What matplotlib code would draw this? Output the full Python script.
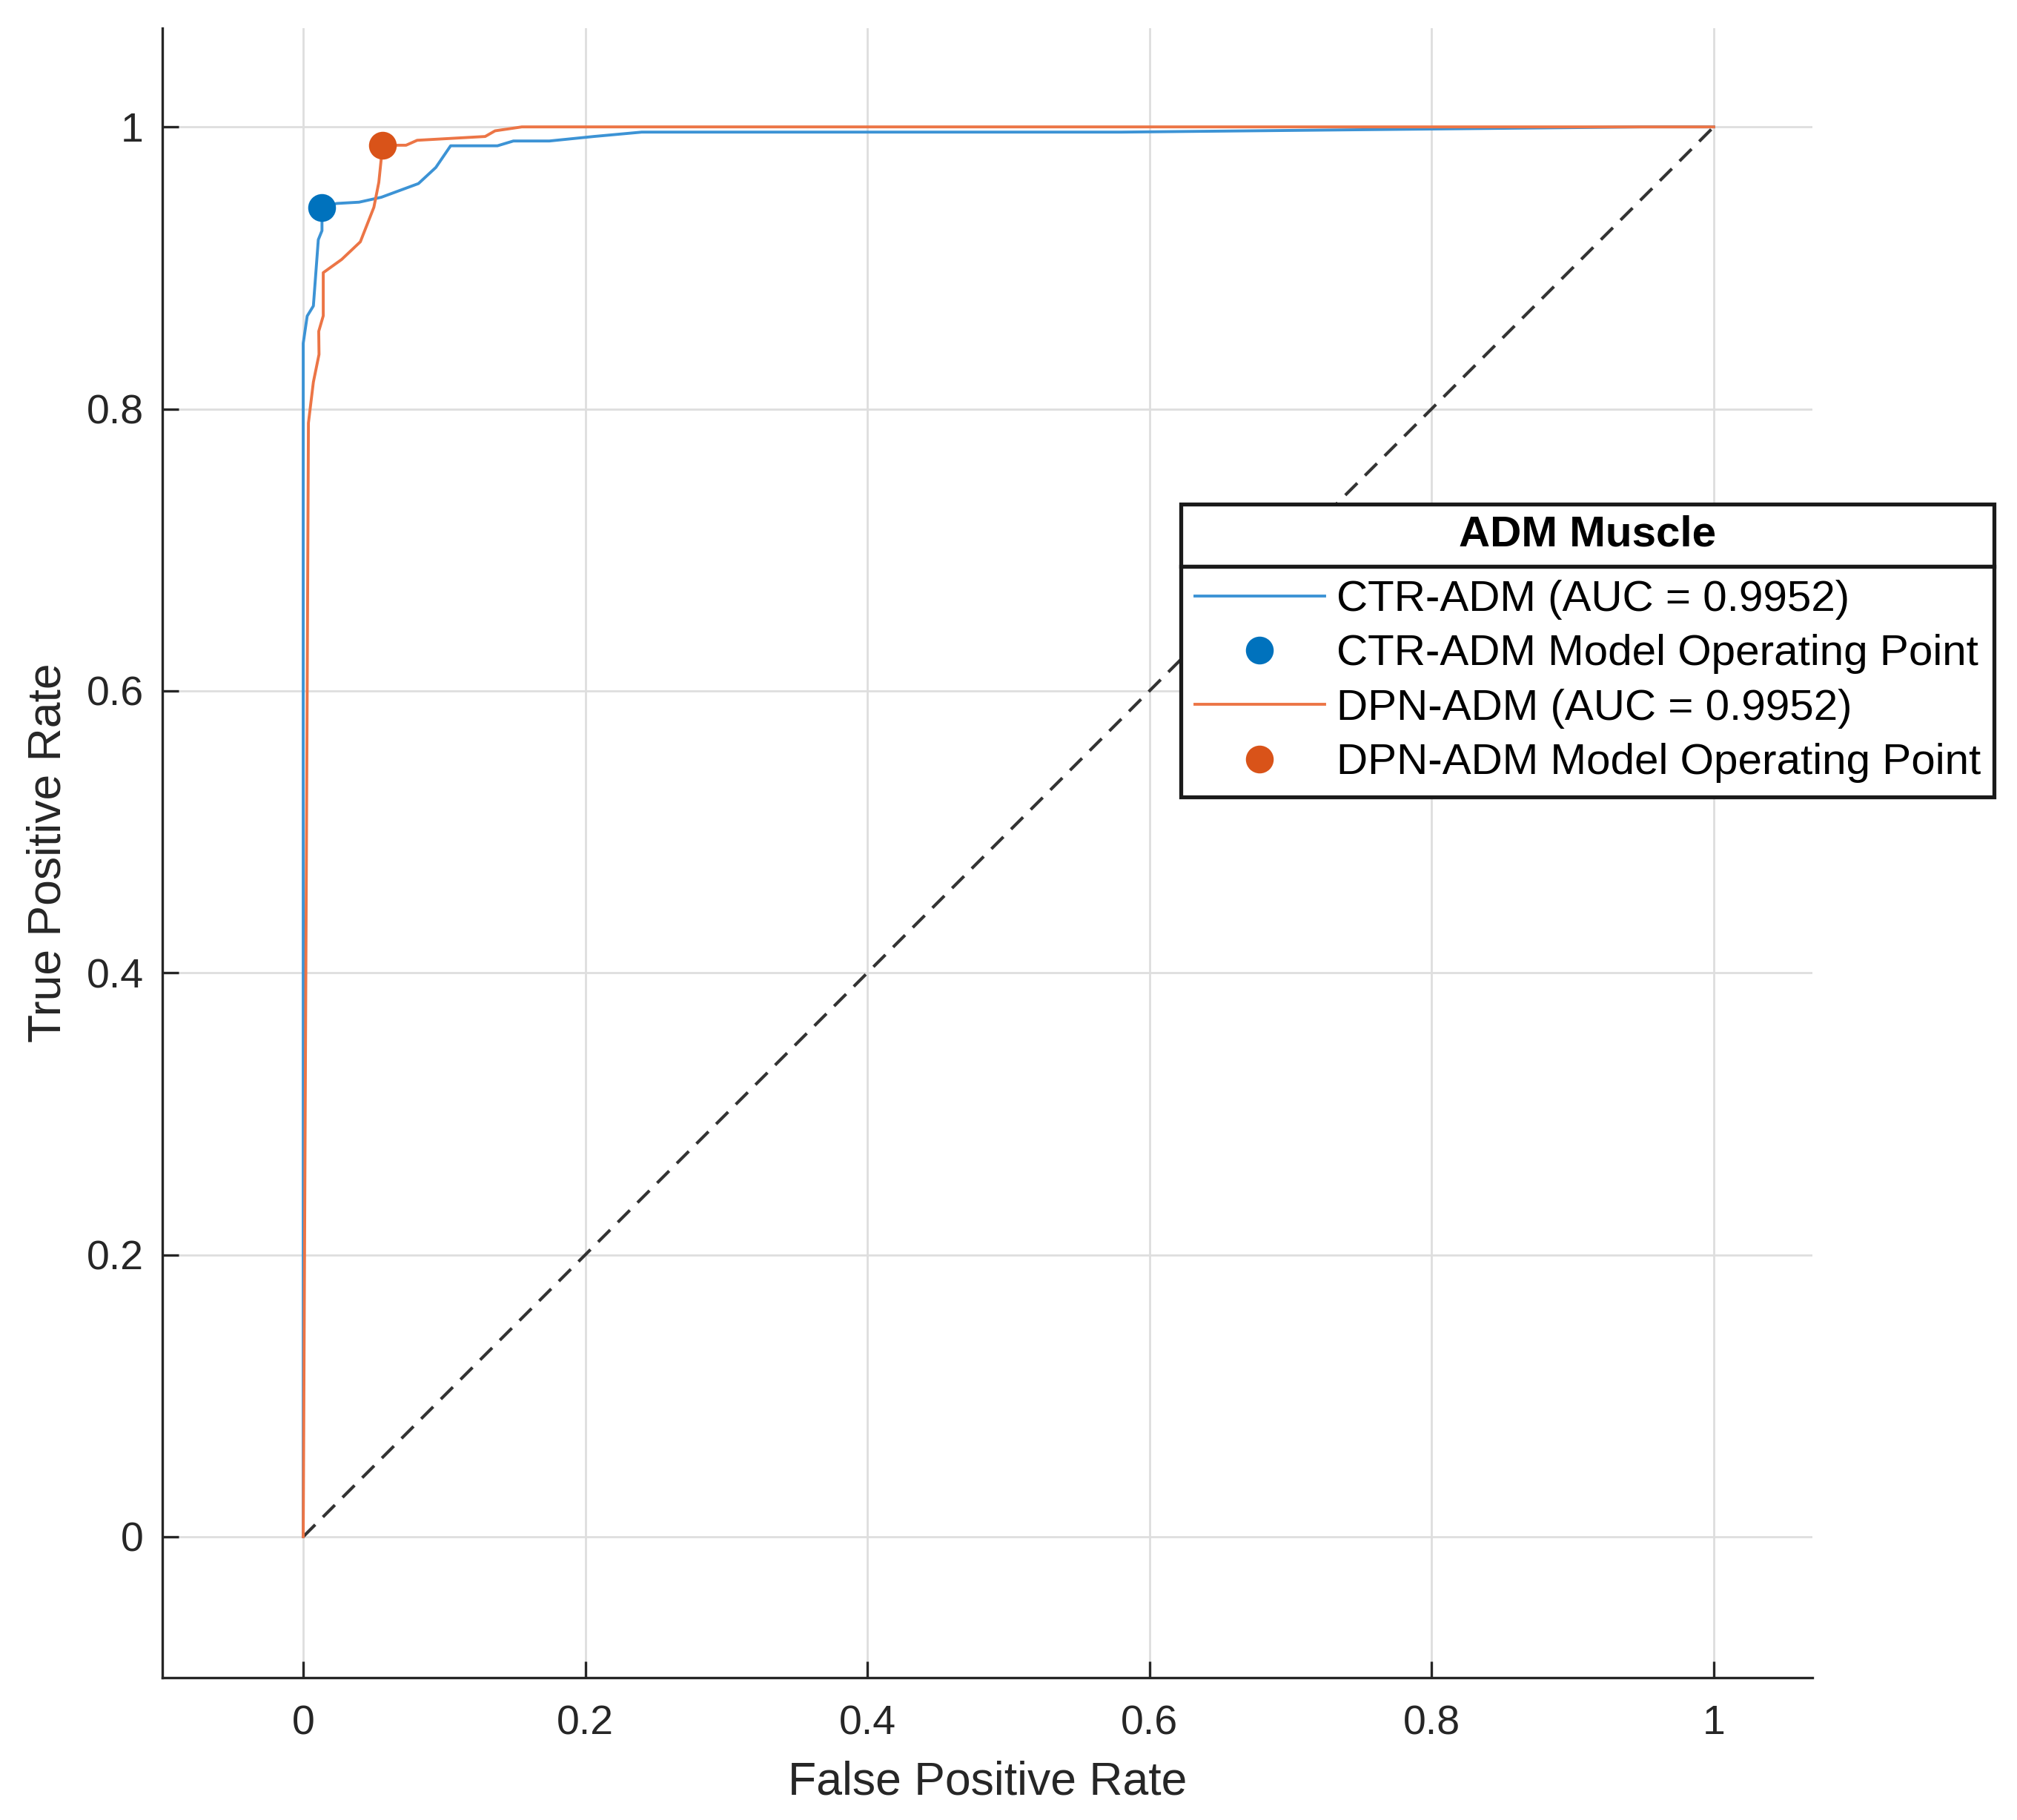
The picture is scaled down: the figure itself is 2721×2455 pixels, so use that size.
import matplotlib
matplotlib.use('Agg')
import matplotlib.pyplot as plt
from matplotlib.patches import Rectangle

plt.rcParams['font.family'] = ['Liberation Sans', 'DejaVu Sans']

# ROC curve for the CTR-ADM model
ctr_fpr = [0, 0, 0.0028, 0.0072, 0.0107, 0.0133, 0.0133, 0.0238, 0.0396, 0.0554,
           0.0817, 0.094, 0.1045, 0.1377, 0.149, 0.1745, 0.206, 0.24, 0.58, 0.80, 0.95, 1]
ctr_tpr = [0, 0.8465, 0.8658, 0.873, 0.920, 0.9264, 0.943, 0.9457, 0.9466, 0.9501,
           0.9598, 0.9712, 0.9866, 0.9866, 0.990, 0.990, 0.9932, 0.9963, 0.9963, 0.9985, 1.0, 1.0]

# ROC curve for the DPN-ADM model
dpn_fpr = [0, 0.0037, 0.0072, 0.0112, 0.0110, 0.0142, 0.0142, 0.0273, 0.0405, 0.0501,
           0.0536, 0.0563, 0.0729, 0.0808, 0.129, 0.136, 0.155, 1]
dpn_tpr = [0, 0.79, 0.819, 0.8386, 0.855, 0.866, 0.8966, 0.906, 0.9185, 0.943,
           0.9607, 0.987, 0.987, 0.9905, 0.9932, 0.9972, 1.0, 1.0]

# operating points
ctr_op = (0.0133, 0.943)
dpn_op = (0.0563, 0.987)

ticks = [0, 0.2, 0.4, 0.6, 0.8, 1]
tick_labels = ['0', '0.2', '0.4', '0.6', '0.8', '1']

dark = '#262626'
blue_line, blue_pt = '#3C93D5', '#0072BD'
orange_line, orange_pt = '#EC7546', '#D95319'

fig = plt.figure(figsize=(13.605, 12.275), dpi=200)
ax = fig.add_axes([0.0804, 0.0782, 0.8182, 0.9063])

# chance line
ax.plot([0, 1], [0, 1], color='#333333', lw=1.5, dashes=(5.5, 3.5), zorder=2)

l1, = ax.plot(ctr_fpr, ctr_tpr, color=blue_line, lw=1.4, zorder=3,
              label='CTR-ADM (AUC = 0.9952)')
l2, = ax.plot(dpn_fpr, dpn_tpr, color=orange_line, lw=1.4, zorder=3,
              label='DPN-ADM (AUC = 0.9952)')
p1, = ax.plot([ctr_op[0]], [ctr_op[1]], 'o', color=blue_pt, ms=12.5, zorder=4,
              label='CTR-ADM Model Operating Point')
p2, = ax.plot([dpn_op[0]], [dpn_op[1]], 'o', color=orange_pt, ms=12.5, zorder=4,
              label='DPN-ADM Model Operating Point')

ax.set_xlim(-0.1, 1.07)
ax.set_ylim(-0.1, 1.07)
ax.set_xticks(ticks)
ax.set_xticklabels(tick_labels)
ax.set_yticks(ticks)
ax.set_yticklabels(tick_labels)
ax.tick_params(direction='in', length=8, width=1.2, color=dark, labelcolor=dark,
               labelsize=20)
ax.tick_params(axis='x', pad=13)
ax.tick_params(axis='y', pad=9)
ax.grid(True, color='#dedede', lw=1.0)
ax.set_axisbelow(True)
for s in ['top', 'right']:
    ax.spines[s].set_visible(False)
for s in ['left', 'bottom']:
    ax.spines[s].set_color(dark)
    ax.spines[s].set_linewidth(1.2)

ax.set_xlabel('False Positive Rate', fontsize=22.5, color=dark, labelpad=8.5)
ax.set_ylabel('True Positive Rate', fontsize=22.5, color=dark, labelpad=8)

# legend box (entries), sticking out past the axes like the original
leg_x0, leg_x1 = 0.5855, 0.9885
leg_top, head_top = 0.6890, 0.7230
leg = fig.legend(handles=[l1, p1, l2, p2], loc='upper left',
                 bbox_to_anchor=(leg_x0, leg_top - 0.2, leg_x1 - leg_x0, 0.2),
                 mode='expand', borderaxespad=0, fontsize=21, labelspacing=0.33,
                 handlelength=3.0, handletextpad=0.28, borderpad=0.32,
                 fancybox=False, framealpha=1, edgecolor='#1a1a1a')
leg.get_frame().set_linewidth(1.9)

# header with the title
fig.patches.append(Rectangle((leg_x0, leg_top), leg_x1 - leg_x0, head_top - leg_top,
                             transform=fig.transFigure, facecolor='white',
                             edgecolor='#1a1a1a', lw=1.9, zorder=5))
fig.text((leg_x0 + leg_x1) / 2, (leg_top + head_top) / 2, 'ADM Muscle',
         ha='center', va='center', fontsize=21, fontweight='bold', zorder=6)

fig.savefig('out.png', dpi=200)
